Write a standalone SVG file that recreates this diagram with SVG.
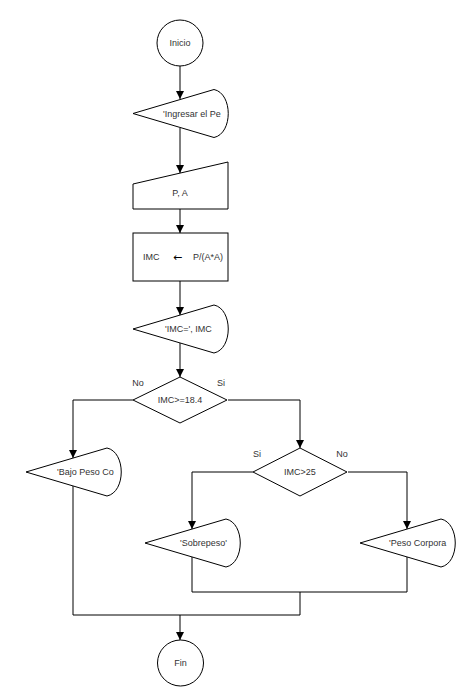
<svg xmlns="http://www.w3.org/2000/svg" width="474" height="698" viewBox="0 0 474 698">
<style>
.s{fill:#fff;stroke:#000;stroke-width:1}
.c{fill:none;stroke:#000;stroke-width:1}
text{font-family:"Liberation Sans",Arial,sans-serif;font-size:9px;fill:#333}
.m{text-anchor:middle}
.arr{font-family:"DejaVu Sans",sans-serif;font-size:11px;fill:#000}
</style>
<defs>
<marker id="ah" markerUnits="userSpaceOnUse" markerWidth="9" markerHeight="9" refX="8" refY="4" orient="auto">
<path d="M0,0 L8,4 L0,8 z" fill="#000"/>
</marker>
</defs>
<rect width="474" height="698" fill="#fff"/>
<g id="connectors">
<path class="c" d="M180,66 V99" marker-end="url(#ah)"/>
<path class="c" d="M180,128 V173" marker-end="url(#ah)"/>
<path class="c" d="M180,209 V233" marker-end="url(#ah)"/>
<path class="c" d="M180,281 V315" marker-end="url(#ah)"/>
<path class="c" d="M180,343 V377" marker-end="url(#ah)"/>
<path class="c" d="M133,400 H73 V458" marker-end="url(#ah)"/>
<path class="c" d="M228,400 H300 V448" marker-end="url(#ah)"/>
<path class="c" d="M253,472 H192 V529" marker-end="url(#ah)"/>
<path class="c" d="M348,472 H407 V529" marker-end="url(#ah)"/>
<path class="c" d="M73,486 V615 H300 V592"/>
<path class="c" d="M192,557 V592 H407 V557"/>
<path class="c" d="M180,615 V640" marker-end="url(#ah)"/>
<text class="m" x="138" y="386">No</text>
<text class="m" x="221" y="386">Si</text>
<text class="m" x="257" y="457">Si</text>
<text class="m" x="342" y="457">No</text>
</g>
<g id="inicio">
<circle class="s" cx="180" cy="43" r="23"/>
<text class="m" x="180" y="46">Inicio</text>
</g>
<g id="ingresar">
<path class="s" d="M133,113.5 L214,89.5 C233,93.5 233,133.5 214,137.5 Z"/>
<text x="163" y="117">'Ingresar el Pe</text>
</g>
<g id="leer">
<polygon class="s" points="133,184 228,162 228,209 133,209"/>
<text class="m" x="180" y="196">P, A</text>
</g>
<g id="asignar">
<rect class="s" x="133" y="233" width="95" height="48"/>
<text x="143" y="260">IMC</text>
<text class="arr" x="173" y="261">←</text>
<text x="193" y="260">P/(A*A)</text>
</g>
<g id="mostrarIMC">
<path class="s" d="M133,329 L214,305 C233,309 233,349 214,353 Z"/>
<text x="165" y="332">'IMC=', IMC</text>
</g>
<g id="decision1">
<polygon class="s" points="180,377 227,400 180,423 133,400"/>
<text class="m" x="180" y="403">IMC&gt;=18.4</text>
</g>
<g id="decision2">
<polygon class="s" points="300,448 347,472 300,496 253,472"/>
<text class="m" x="300" y="475">IMC&gt;25</text>
</g>
<g id="bajoPeso">
<path class="s" d="M26,472 L107,448 C126,452 126,492 107,496 Z"/>
<text x="57" y="475">'Bajo Peso Co</text>
</g>
<g id="sobrepeso">
<path class="s" d="M145,543 L226,519 C245,523 245,563 226,567 Z"/>
<text x="180" y="546">'Sobrepeso'</text>
</g>
<g id="pesoCorporal">
<path class="s" d="M360,543 L441,519 C460,523 460,563 441,567 Z"/>
<text x="389" y="546">'Peso Corpora</text>
</g>
<g id="fin">
<circle class="s" cx="180.5" cy="663" r="23"/>
<text class="m" x="180.5" y="666">Fin</text>
</g>
</svg>
